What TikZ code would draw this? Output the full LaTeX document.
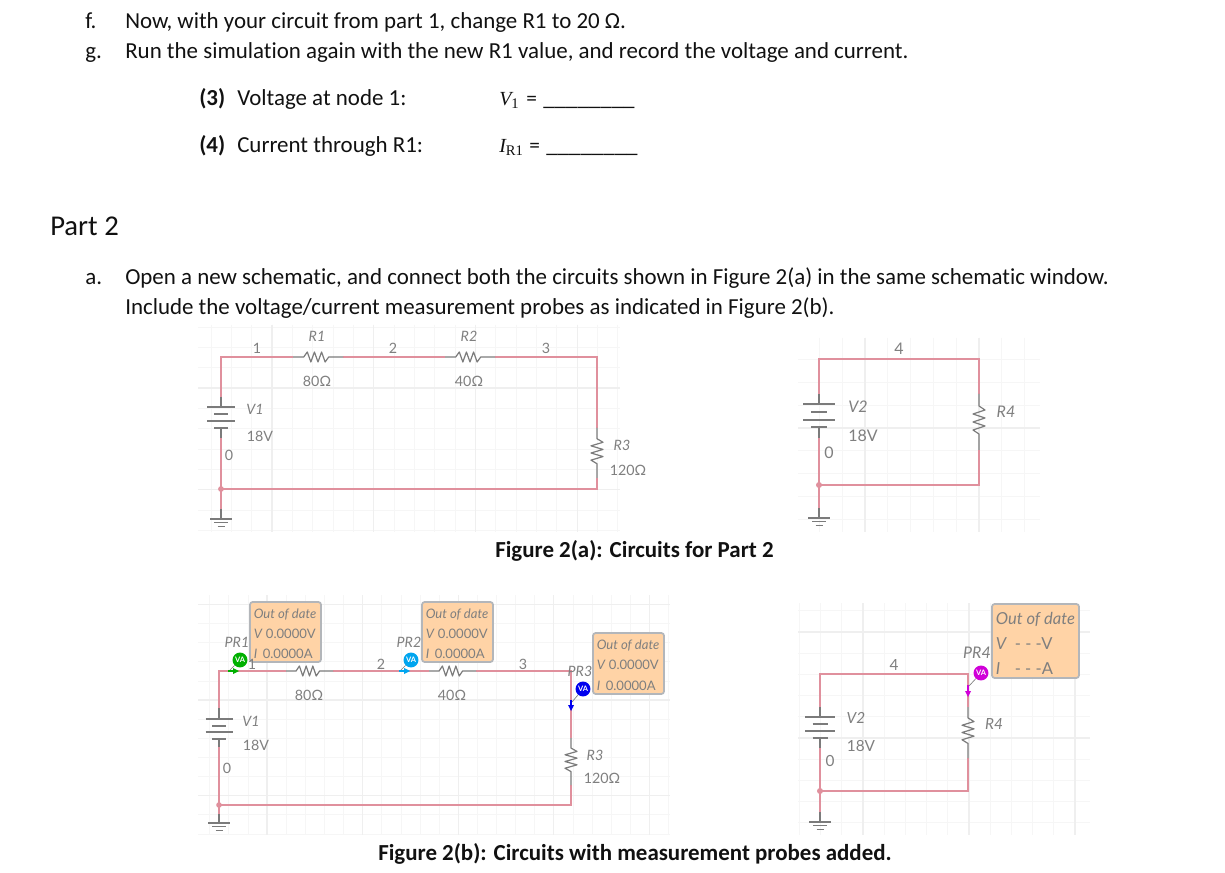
\documentclass[tikz,border=0pt]{standalone}
\usepackage{fontspec}
\setmainfont{Carlito}[Ligatures=CommonOff]
\newfontfamily\schem{Lato}
\newfontfamily\mathserif{Liberation Serif}
\definecolor{wirec}{HTML}{E0909D}
\definecolor{partc}{HTML}{7B7B7B}
\definecolor{labc}{HTML}{7F7F7F}
\definecolor{gridmin}{HTML}{F6F6F6}
\definecolor{gridmaj}{HTML}{EFEFEF}
\definecolor{boxf}{HTML}{FFD3A6}
\definecolor{boxb}{HTML}{B3B6BA}
\definecolor{txtc}{HTML}{111111}
\definecolor{pgreen}{HTML}{00B000}
\definecolor{pcyan}{HTML}{00A5EF}
\definecolor{pblue}{HTML}{0000EE}
\definecolor{pmag}{HTML}{D000D8}
\tikzset{
  doc/.style={anchor=base west,inner sep=0pt,text=txtc,font=\fontsize{17.2}{20}\selectfont},
  docb/.style={doc,font=\fontsize{17.2}{20}\selectfont\bfseries},
  lab/.style={inner sep=0pt,text=labc,font=\schem\fontsize{10.7}{12}\selectfont},
  labi/.style={inner sep=0pt,text=labc,font=\schem\itshape\fontsize{10.7}{12}\selectfont},
  labb/.style={inner sep=0pt,text=labc,font=\schem\fontsize{12}{13}\selectfont},
  labbi/.style={inner sep=0pt,text=labc,font=\schem\itshape\fontsize{12}{13}\selectfont},
  wire/.style={draw=wirec,line width=1.3pt},
  part/.style={draw=partc,line width=0.9pt},
  gmin/.style={draw=gridmin,line width=0.5pt},
  gmaj/.style={draw=gridmaj,line width=0.9pt},
  outbox/.style={draw=boxb,line width=1.3pt,fill=boxf,rounded corners=2pt,inner sep=0pt},
  boxtxt/.style={inner sep=0pt,anchor=base west,text=labc,font=\schem\fontsize{9.8}{12}\selectfont},
  boxtxtb/.style={boxtxt,font=\schem\fontsize{12.4}{14}\selectfont},
  vacirc/.style={circle,minimum size=11.2pt,inner sep=0pt,text=white,font=\schem\bfseries\fontsize{5.6}{6}\selectfont},
}
% grid: x0,y0,x1,y1, origin x, origin y, major spacing
\newcommand{\schemgrid}[7]{%
  \begin{scope}
    \clip (#1,#2) rectangle (#3,#4);
    \foreach \i in {-30,...,30}{%
      \pgfmathsetmacro{\gx}{#5+\i*#7/5}%
      \pgfmathsetmacro{\gy}{#6+\i*#7/5}%
      \draw[gmin] (\gx,#2) -- (\gx,#4);
      \draw[gmin] (#1,\gy) -- (#3,\gy);
    }
    \foreach \i in {-6,...,6}{%
      \pgfmathsetmacro{\gx}{#5+\i*#7}%
      \pgfmathsetmacro{\gy}{#6+\i*#7}%
      \draw[gmaj] (\gx,#2) -- (\gx,#4);
      \draw[gmaj] (#1,\gy) -- (#3,\gy);
    }
  \end{scope}}
% horizontal resistor: x0,x1,y
\newcommand{\hres}[3]{%
  \pgfmathsetmacro{\u}{(#2-#1)/14}%
  \draw[part,line join=round] (#1,#3) -- ++(3*\u,0) -- ++(\u,-5) -- ++(\u,10) -- ++(\u,-10) -- ++(\u,10) -- ++(\u,-10) -- ++(\u,10) -- ++(\u,-5) -- (#2,#3);}
% vertical resistor: y0,y1,x
\newcommand{\vres}[3]{%
  \pgfmathsetmacro{\u}{(#2-#1)/14}%
  \draw[part,line join=round] (#3,#1) -- ++(0,3*\u) -- ++(6,\u) -- ++(-12,\u) -- ++(12,\u) -- ++(-12,\u) -- ++(12,\u) -- ++(-12,\u) -- ++(6,\u) -- (#3,#2);}
% battery: x, y lead top, y plate 1,2,3,4, y lead bottom, half wide, half short
\newcommand{\batt}[9]{%
  \draw[part] (#1,#2) -- (#1,#3);
  \draw[part] (#1-#8,#3) -- (#1+#8,#3);
  \draw[part] (#1-#9,#4) -- (#1+#9,#4);
  \draw[part] (#1-#8,#5) -- (#1+#8,#5);
  \draw[part] (#1-#9,#6) -- (#1+#9,#6);
  \draw[part] (#1,#6) -- (#1,#7);}
% ground: x, y0, y1
\newcommand{\gnd}[3]{%
  \draw[part] (#1,#2) -- (#1,#3);
  \draw[part] (#1-11,#3) -- (#1+11,#3);
  \draw[part] (#1-7,#3+3.7) -- (#1+7,#3+3.7);
  \draw[part] (#1-3.5,#3+7.4) -- (#1+3.5,#3+7.4);}
% measurement box: x0,y0,x1,y1, style, line2, line3
\newcommand{\outdate}[7]{%
  \draw[outbox] (#1,#2) rectangle (#3,#4);
  \pgfmathsetmacro{\h}{(#4-#2)/3}%
  \node[#5] at (#1+3.5,#2+\h-4) {\itshape Out of date};
  \node[#5] at (#1+3.5,#2+2*\h-4) {#6};
  \node[#5] at (#1+3.5,#2+3*\h-4) {#7};}
\begin{document}
\begin{tikzpicture}[x=0.75pt,y=-0.75pt]
\useasboundingbox (0,0) rectangle (1225,873);
\fill[white] (0,0) rectangle (1225,873);

% document text
\node[doc] (f) at (85,29) {f.};
\node[doc] (nf) at (125,29) {Now, with your circuit from part 1, change R1 to 20 Ω.};
\node[doc] (g) at (85,59) {g.};
\node[doc] (ng) at (125,59) {Run the simulation again with the new R1 value, and record the voltage and current.};
\node[docb] (q3) at (199,106) {(3)};
\node[doc] (t3) at (237,106) {Voltage at node 1:};
\node[doc,font=\mathserif\itshape\fontsize{15}{18}\selectfont] (v1) at (499,106) {V\raisebox{-2pt}{\upshape\fontsize{11}{12}\selectfont 1}};
\node[doc,font=\fontsize{16}{18}\selectfont] (v1eq) at (526,106) {=};
\node[doc] (u3) at (543,106) {\_\_\_\_\_\_\_\_};
\node[docb] (q4) at (199,153) {(4)};
\node[doc] (t4) at (237,153) {Current through R1:};
\node[doc,font=\mathserif\itshape\fontsize{15}{18}\selectfont] (ir) at (499,153) {I\raisebox{-2pt}{\upshape\fontsize{11}{12}\selectfont R1}};
\node[doc,font=\fontsize{16}{18}\selectfont] (ireq) at (529,153) {=};
\node[doc] (u4) at (546,153) {\_\_\_\_\_\_\_\_};
\node[doc,font=\fontsize{21.5}{24}\selectfont] (part) at (50,236) {Part 2};
\node[doc] (a) at (85,285) {a.};
\node[doc] (na) at (125,285) {Open a new schematic, and connect both the circuits shown in Figure 2(a) in the same schematic window.};
\node[doc] (na2) at (125,315) {Include the voltage/current measurement probes as indicated in Figure 2(b).};
\node[docb] (fa) at (495,557) {Figure 2(a): Circuits for Part 2};
\node[docb] (fb) at (378,860) {Figure 2(b): Circuits with measurement probes added.};

% ===== Figure 2(a) left
\schemgrid{198}{325}{620}{532}{272}{388}{101.7}
\coordinate (a1) at (221,397); \coordinate (a2) at (221,357); \coordinate (a3) at (293,357);
\coordinate (a4) at (343,357); \coordinate (a5) at (445,357); \coordinate (a6) at (495,357);
\coordinate (a7) at (597,357); \coordinate (a8) at (597,428); \coordinate (a9) at (597,478);
\coordinate (a10) at (597,489); \coordinate (a11) at (221,489); \coordinate (a12) at (221,438); \coordinate (a13) at (221,509);
\draw[wire] (a1) -- (a2) -- (a3);
\draw[wire] (a4) -- (a5);
\draw[wire] (a6) -- (a7) -- (a8);
\draw[wire] (a9) -- (a10) -- (a11);
\draw[wire] (a12) -- (a13);
\fill[wirec] (a11) circle (2.9);
\hres{293}{343}{357}
\hres{445}{495}{357}
\vres{428}{478}{597}
\batt{221}{397}{407}{414}{421}{428}{438}{14}{7}
\gnd{221}{509}{519}
\node[labi] (lr1) at (317,336) {R1};
\node[lab] (n1) at (257,348) {1};
\node[lab] (v80) at (317,381) {80Ω};
\node[lab] (n2) at (393,348) {2};
\node[labi] (lr2) at (469,336) {R2};
\node[lab] (v40) at (469,381) {40Ω};
\node[lab] (n3) at (546,348) {3};
\node[labi] (lv1) at (255,409) {V1};
\node[lab] (v18) at (260,436) {18V};
\node[lab] (n0) at (229,455) {0};
\node[labi] (lr3) at (622,445) {R3};
\node[lab] (v120) at (628,470) {120Ω};

% ===== Figure 2(a) right
\schemgrid{798}{338}{1040}{532}{865}{428}{114}
\coordinate (b1) at (819,394); \coordinate (b2) at (819,359); \coordinate (b3) at (979,359);
\coordinate (b4) at (979,394); \coordinate (b5) at (979,450); \coordinate (b6) at (979,485);
\coordinate (b7) at (819,485); \coordinate (b8) at (819,438); \coordinate (b9) at (819,508);
\draw[wire] (b1) -- (b2) -- (b3) -- (b4);
\draw[wire] (b5) -- (b6) -- (b7);
\draw[wire] (b8) -- (b9);
\fill[wirec] (b7) circle (3);
\vres{394}{450}{979}
\batt{819}{394}{404}{412}{420}{427}{438}{16}{8}
\gnd{819}{508}{518}
\node[labb] (n4) at (899,349) {4};
\node[labbi] (lv2) at (858,407) {V2};
\node[labb] (v182) at (863,436) {18V};
\node[labb] (n02) at (829,453) {0};
\node[labbi] (lr4) at (1006,412) {R4};

% ===== Figure 2(b) left
\schemgrid{198}{595}{670}{835}{267}{700}{95.6}
\coordinate (c1) at (219,708); \coordinate (c2) at (219,671); \coordinate (c3) at (286,671);
\coordinate (c4) at (333,671); \coordinate (c5) at (429,671); \coordinate (c6) at (476,671);
\coordinate (c7) at (571,671); \coordinate (c8) at (571,738); \coordinate (c9) at (571,785);
\coordinate (c10) at (571,805); \coordinate (c11) at (219,805); \coordinate (c12) at (219,747); \coordinate (c13) at (219,814);
\draw[wire] (c1) -- (c2) -- (c3);
\draw[wire] (c4) -- (c5);
\draw[wire] (c6) -- (c7) -- (c8);
\draw[wire] (c9) -- (c10) -- (c11);
\draw[wire] (c12) -- (c13);
\fill[wirec] (c11) circle (2.8);
\hres{286}{333}{671}
\hres{429}{476}{671}
\vres{738}{785}{571}
\batt{219}{708}{719}{726}{732}{739}{747}{13.5}{7}
\gnd{219}{814}{823}
\outdate{250}{602}{321}{662}{boxtxt}{\textit{V} 0.0000V}{\textit{I}\, 0.0000A}
\outdate{422}{602}{493}{662}{boxtxt}{\textit{V} 0.0000V}{\textit{I}\, 0.0000A}
\outdate{593}{633}{664}{694}{boxtxt}{\textit{V} 0.0000V}{\textit{I}\, 0.0000A}
\node[labi] (pr1) at (237,642) {PR1};
\node[labi] (pr2) at (409,642) {PR2};
\node[labi] (pr3) at (580,671) {PR3};
\node[lab] (m1) at (252,664) {1};
\node[lab] (m2) at (381,664) {2};
\node[lab] (m3) at (523,664) {3};
\node[lab] (m80) at (309,695) {80Ω};
\node[lab] (m40) at (452,695) {40Ω};
\node[labi] (mv1) at (251,721) {V1};
\node[lab] (m18) at (256,745) {18V};
\node[lab] (m0) at (227,768) {0};
\node[labi] (mr3) at (595,755) {R3};
\node[lab] (m120) at (602,778) {120Ω};
% probes
\node[vacirc,fill=pgreen] (p1) at (240,660) {VA};
\coordinate (t1) at (229,671);
\draw[gray,line width=0.5pt] (p1) -- (t1);
\fill[pgreen] (233,668) -- (239,671) -- (233,674) -- cycle;
\draw[pgreen,line width=1pt] (228,671) -- (234,671);
\node[vacirc,fill=pcyan] (p2) at (411,660) {VA};
\coordinate (t2) at (400,671);
\draw[gray,line width=0.5pt] (p2) -- (t2);
\fill[pcyan] (404,668) -- (410,671) -- (404,674) -- cycle;
\draw[pcyan,line width=1pt] (399,671) -- (405,671);
\node[vacirc,fill=pblue] (p3) at (583,689) {VA};
\coordinate (t3p) at (572,702);
\draw[gray,line width=0.5pt] (p3) -- (t3p);
\fill[pblue] (568,705) -- (574,705) -- (571,711) -- cycle;
\draw[pblue,line width=1pt] (571,700) -- (571,706);

% ===== Figure 2(b) right
\schemgrid{798}{603}{1090}{835}{863}{632}{106}
\coordinate (d1) at (820,707); \coordinate (d2) at (820,674); \coordinate (d3) at (968,674);
\coordinate (d4) at (968,707); \coordinate (d5) at (968,758); \coordinate (d6) at (968,791);
\coordinate (d7) at (820,791); \coordinate (d8) at (820,748); \coordinate (d9) at (820,812);
\draw[wire] (d1) -- (d2) -- (d3) -- (d4);
\draw[wire] (d5) -- (d6) -- (d7);
\draw[wire] (d8) -- (d9);
\fill[wirec] (d7) circle (3);
\vres{707}{758}{968}
\batt{820}{707}{717}{724}{731}{738}{748}{15}{7.5}
\gnd{820}{812}{822}
\outdate{992}{604}{1079}{678}{boxtxtb}{\textit{V}\hspace{6pt}- - -V}{\textit{I}\hspace{11pt}- - -A}
\node[labbi] (pr4) at (977,653) {PR4};
\node[labb,font=\schem\fontsize{11.5}{13}\selectfont] (q4n) at (894,665) {4};
\node[labbi,font=\schem\itshape\fontsize{11.5}{13}\selectfont] (qv2) at (856,718) {V2};
\node[labb,font=\schem\fontsize{11.5}{13}\selectfont] (q18) at (861,746) {18V};
\node[labb,font=\schem\fontsize{11.5}{13}\selectfont] (q0) at (830,761) {0};
\node[labbi,font=\schem\itshape\fontsize{11.5}{13}\selectfont] (qr4) at (994,724) {R4};
\node[vacirc,fill=pmag] (p4) at (981,673) {VA};
\coordinate (t4p) at (969,686);
\draw[gray,line width=0.5pt] (p4) -- (t4p);
\fill[pmag] (965,691) -- (971,691) -- (968,697) -- cycle;
\draw[pmag,line width=1pt] (968,685) -- (968,692);
\end{tikzpicture}
\end{document}
